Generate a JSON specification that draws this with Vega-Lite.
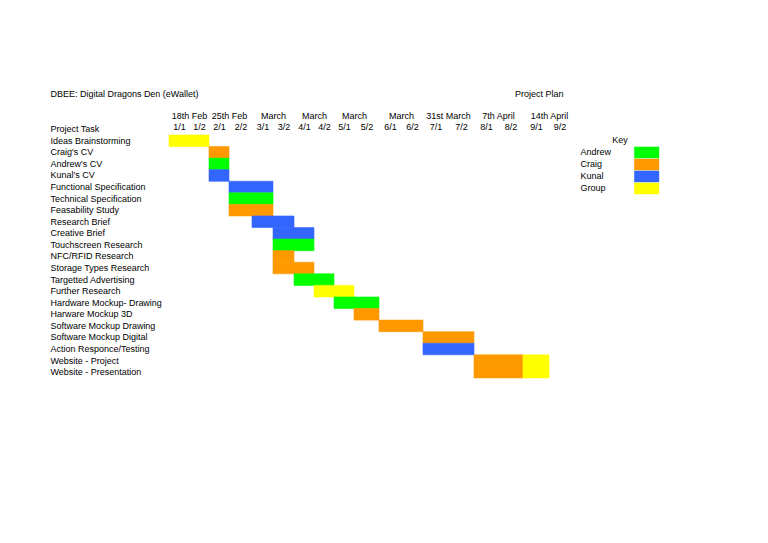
{
  "$schema": "https://vega.github.io/schema/vega-lite/v6.json",
  "width": 401,
  "height": 289.25,
  "autosize": {"type": "none"},
  "padding": {"left": 169, "top": 88.7, "right": 198, "bottom": 165},
  "background": "white",
  "config": {"view": {"stroke": null}, "font": "Liberation Sans"},
  "resolve": {"axis": {"x": "independent", "y": "independent"}},
  "layer": [
    {
      "data": {"values": [
        {"task": "Ideas Brainstorming", "person": "Group", "start": 0, "end": 2},
        {"task": "Craig's CV", "person": "Craig", "start": 2, "end": 3},
        {"task": "Andrew's CV", "person": "Andrew", "start": 2, "end": 3},
        {"task": "Kunal's CV", "person": "Kunal", "start": 2, "end": 3},
        {"task": "Functional Specification", "person": "Kunal", "start": 3, "end": 5},
        {"task": "Technical Specification", "person": "Andrew", "start": 3, "end": 5},
        {"task": "Feasability Study", "person": "Craig", "start": 3, "end": 5},
        {"task": "Research Brief", "person": "Kunal", "start": 4, "end": 6},
        {"task": "Creative Brief", "person": "Kunal", "start": 5, "end": 7},
        {"task": "Touchscreen Research", "person": "Andrew", "start": 5, "end": 7},
        {"task": "NFC/RFID Research", "person": "Craig", "start": 5, "end": 6},
        {"task": "Storage Types Research", "person": "Craig", "start": 5, "end": 7},
        {"task": "Targetted Advertising", "person": "Andrew", "start": 6, "end": 8},
        {"task": "Further Research", "person": "Group", "start": 7, "end": 9},
        {"task": "Hardware Mockup- Drawing", "person": "Andrew", "start": 8, "end": 10},
        {"task": "Harware Mockup 3D", "person": "Craig", "start": 9, "end": 10},
        {"task": "Software Mockup Drawing", "person": "Craig", "start": 10, "end": 12},
        {"task": "Software Mockup Digital", "person": "Craig", "start": 12, "end": 14},
        {"task": "Action Responce/Testing", "person": "Kunal", "start": 12, "end": 14},
        {"task": "Website - Project", "person": "Craig", "start": 14, "end": 16},
        {"task": "Website - Project", "person": "Group", "start": 16, "end": 17},
        {"task": "Website - Presentation", "person": "Craig", "start": 14, "end": 16},
        {"task": "Website - Presentation", "person": "Group", "start": 16, "end": 17}
      ]},
      "mark": {"type": "rect", "strokeWidth": 0.6},
      "encoding": {
        "x": {
          "field": "start", "type": "quantitative",
          "scale": {"domain": [0,1,2,3,4,5,6,7,8,9,10,11,12,13,14,15,16,17,18], "range": [0,20,40,60,83,104,125,145,165,185,210,232,254,279,305,329,354,380,401], "zero": false, "nice": false},
          "axis": {"orient": "top", "offset": -46.28, "values": [0.5,1.5,2.5,3.5,4.5,5.5,6.5,7.5,8.5,9.5,10.5,11.5,12.5,13.5,14.5,15.5,16.5,17.5],
                   "labelExpr": "(floor(datum.value/2)+1) + '/' + (floor(datum.value)%2+1)",
                   "domain": false, "ticks": false, "grid": false, "title": null, "labelPadding": 3,
                   "labelFontSize": 9, "labelColor": "#000", "labelFlush": false, "labelOverlap": false, "labelFont": "Liberation Sans"}
        },
        "x2": {"field": "end"},
        "y": {
          "field": "task", "type": "nominal",
          "scale": {"domain": ["DBEE: Digital Dragons Den (eWallet)", "blank", "dates", "Project Task", "Ideas Brainstorming", "Craig's CV", "Andrew's CV", "Kunal's CV", "Functional Specification", "Technical Specification", "Feasability Study", "Research Brief", "Creative Brief", "Touchscreen Research", "NFC/RFID Research", "Storage Types Research", "Targetted Advertising", "Further Research", "Hardware Mockup- Drawing", "Harware Mockup 3D", "Software Mockup Drawing", "Software Mockup Digital", "Action Responce/Testing", "Website - Project", "Website - Presentation"], "paddingInner": 0, "paddingOuter": 0},
          "axis": {"values": ["DBEE: Digital Dragons Den (eWallet)", "Project Task", "Ideas Brainstorming", "Craig's CV", "Andrew's CV", "Kunal's CV", "Functional Specification", "Technical Specification", "Feasability Study", "Research Brief", "Creative Brief", "Touchscreen Research", "NFC/RFID Research", "Storage Types Research", "Targetted Advertising", "Further Research", "Hardware Mockup- Drawing", "Harware Mockup 3D", "Software Mockup Drawing", "Software Mockup Digital", "Action Responce/Testing", "Website - Project", "Website - Presentation"],
                   "labelAlign": "left", "labelPadding": 119, "ticks": false, "domain": false, "grid": false, "title": null,
                   "labelFontSize": 9, "labelColor": "#000", "labelLimit": 400, "labelFont": "Liberation Sans", "labelBaseline": "middle"}
        },
        "color": {
          "field": "person", "type": "nominal",
          "scale": {"domain": ["Andrew", "Craig", "Kunal", "Group"], "range": ["#00ff00", "#ff9900", "#3366ff", "#ffff00"]},
          "legend": {"orient": "none", "legendX": 411, "legendY": 47.8, "title": "Key", "titleFontSize": 9, "titleFontWeight": "normal", "titleColor": "#000", "titleFont": "Liberation Sans", "titlePadding": 1, "titleAnchor": "middle",
                     "symbolType": "M-2.16,-1H2.16V1H-2.16Z", "symbolSize": 133.9, "symbolStrokeWidth": 0, "symbolOpacity": 1, "symbolFillColor": "#000", "symbolOffset": 60.7,
                     "labelOffset": -72.27, "labelAlign": "left", "labelFontSize": 9, "labelColor": "#000", "labelFont": "Liberation Sans", "rowPadding": 0, "padding": 0, "offset": 0}
        },
        "stroke": {"field": "person", "type": "nominal", "scale": {"domain": ["Andrew", "Craig", "Kunal", "Group"], "range": ["#00ff00", "#ff9900", "#3366ff", "#ffff00"]}, "legend": null}
      }
    },
    {
      "data": {"values": [{"label": "Project Plan"}]},
      "mark": {"type": "text", "align": "left", "baseline": "middle", "fontSize": 9, "color": "#000", "font": "Liberation Sans"},
      "encoding": {
        "x": {
          "datum": 15.68, "type": "quantitative",
          "scale": {"domain": [0,1,2,3,4,5,6,7,8,9,10,11,12,13,14,15,16,17,18], "range": [0,20,40,60,83,104,125,145,165,185,210,232,254,279,305,329,354,380,401], "zero": false, "nice": false},
          "axis": {"orient": "top", "offset": -34.71, "values": [1,3,5,7,9,11,13,15,17],
                   "labelExpr": "['18th Feb','25th Feb','March','March','March','March','31st March','7th April','14th April'][floor(datum.value/2)]",
                   "domain": false, "ticks": false, "grid": false, "title": null, "labelPadding": 3,
                   "labelFontSize": 9, "labelColor": "#000", "labelFlush": false, "labelOverlap": false, "labelFont": "Liberation Sans"}
        },
        "y": {"datum": "DBEE: Digital Dragons Den (eWallet)", "type": "nominal", "axis": null},
        "text": {"field": "label"}
      }
    }
  ]
}
